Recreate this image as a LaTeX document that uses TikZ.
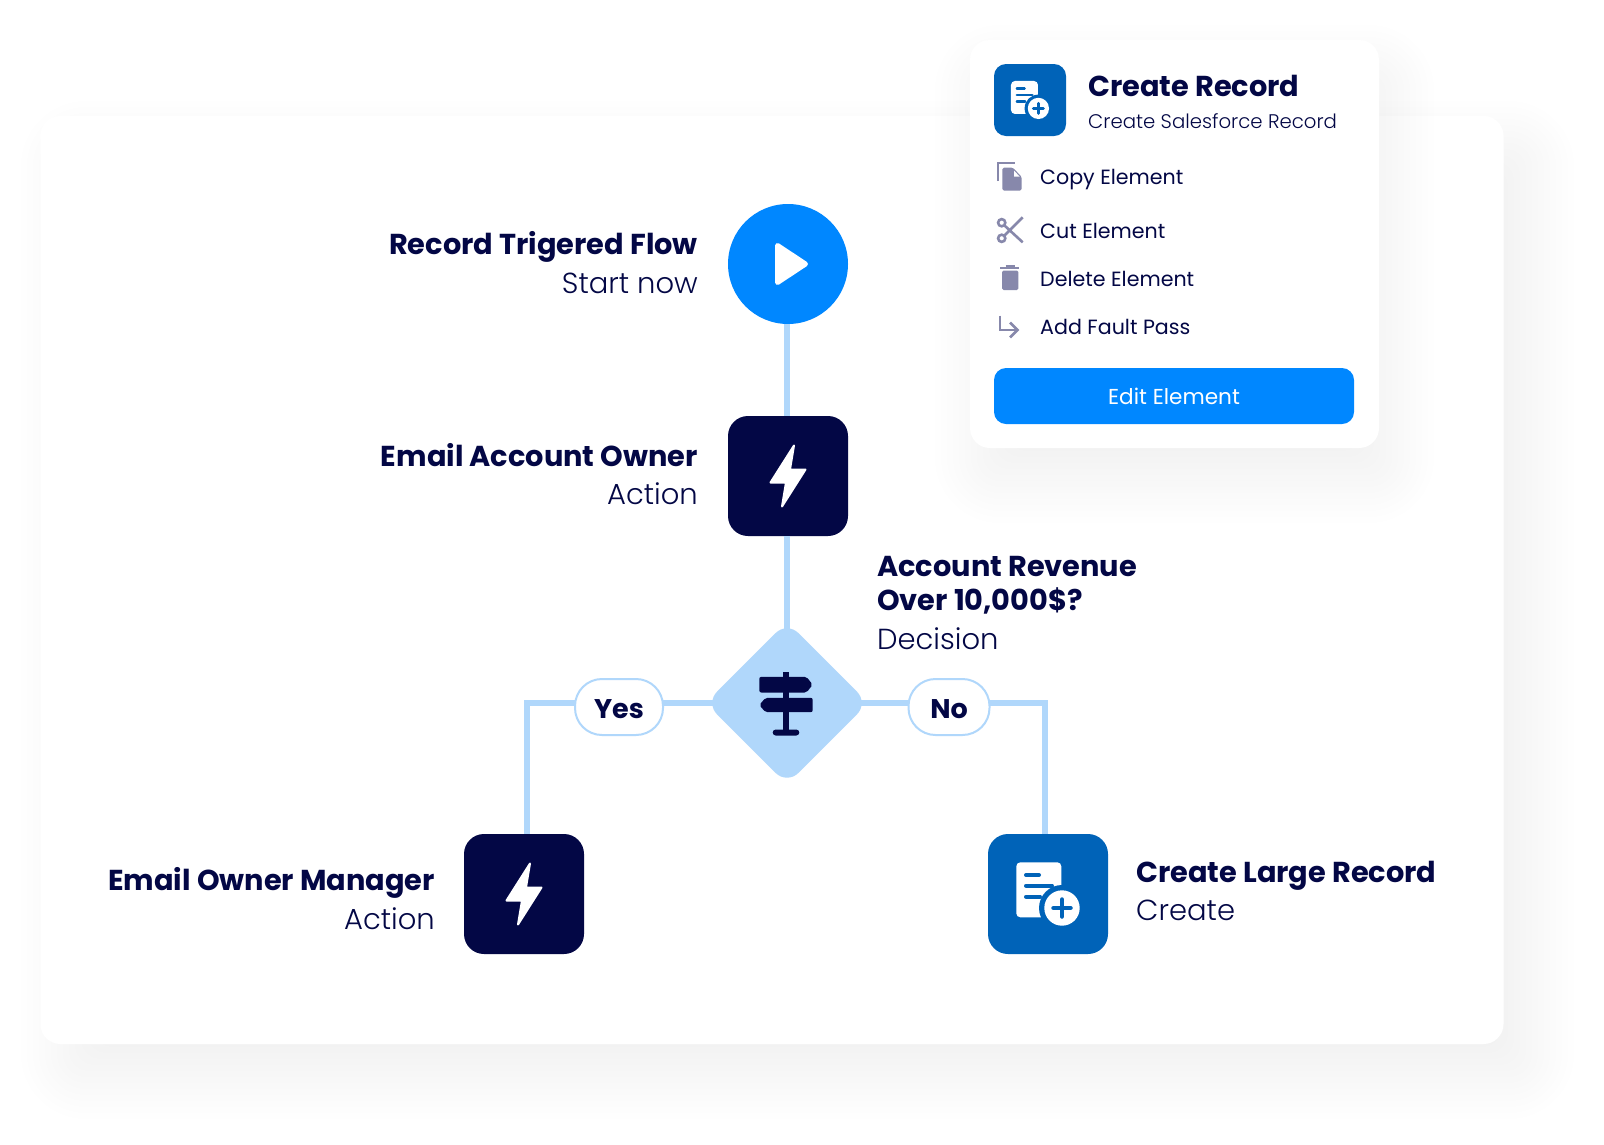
\documentclass[tikz,border=0pt]{standalone}
\usepackage{fontspec}
\setmainfont{Poppins}
\newfontfamily\lightfont{Poppins Light}
\usepackage{tikz}
\usepackage{xcolor}
\definecolor{flownavy}{HTML}{030745}
\definecolor{flowblue}{HTML}{0087FF}
\definecolor{flowmid}{HTML}{0063B8}
\definecolor{flowpale}{HTML}{B0D7FB}
\definecolor{flowgrey}{HTML}{8788AB}
\tikzset{
  flowcard/.style={fill=white, rounded corners=20pt, inner sep=0pt},
  flowbox/.style={rounded corners=20pt, minimum size=120pt, inner sep=0pt},
  flowline/.style={draw=flowpale, line width=6pt},
  flowpill/.style={draw=flowpale, fill=white, line width=2pt, rounded corners=27pt, inner sep=0pt, minimum height=56pt, text height=22.5pt, text depth=0pt, text=flownavy, font=\fontsize{27}{32}\selectfont\bfseries},
  flowtitle/.style={text=flownavy, inner sep=0pt, font=\fontsize{28.8}{34}\selectfont\bfseries},
  flowsub/.style={text=flownavy, inner sep=0pt, font=\fontsize{29}{34}\lightfont},
  menutext/.style={text=flownavy, inner sep=0pt, font=\fontsize{20.6}{26}\selectfont},
  menusubtext/.style={text=flownavy, inner sep=0pt, font=\fontsize{19.7}{26}\lightfont},
  menuicon/.style={draw=flowgrey, line width=2.6pt},
  softshadow/.style={fill=black, opacity=.0045},
}
\newcommand{\softshadow}[4]{
  \foreach \spread in {-45,-39,...,45}{
    \pgfmathsetmacro\rad{max(20,20+\spread)}
    \fill[softshadow, rounded corners=\rad pt] ({#1-\spread},{#2-\spread}) rectangle ({#3+\spread},{#4+\spread});
  }
}
\newcommand{\bolticon}[1]{
  \fill[white, draw=white, line width=2pt, line join=round, shift={(#1)}]
    (6,-30.5) -- (-17.5,6.5) -- (-2,6.5) -- (-6,30.5) -- (17.5,-6.5) -- (2,-6.5) -- cycle;
}
\newcommand{\recordicon}[2]{
  \begin{scope}[shift={(#1)}, x=#2pt, y=-#2pt]
    \fill[white, rounded corners=4pt] (-31.7,-31.7) rectangle (13.3,23.3);
    \fill[flowmid] (14,14) circle (23);
    \fill[white] (14,14) circle (17.7);
    \draw[flowmid, line width=#2*4pt, line cap=round] (-22,-19) -- (-9,-19) (-22,-8.3) -- (4,-8.3) (-22,2.7) -- (-8,2.7);
    \draw[flowmid, line width=#2*4.5pt, line cap=round] (14,5.5) -- (14,22.5) (5.5,14) -- (22.5,14);
  \end{scope}
}
\begin{document}
\begin{tikzpicture}[x=1pt, y=-1pt]
  \useasboundingbox (0,0) rectangle (1604,1144);

  % cards and their shadows
  \softshadow{66}{146}{1529}{1074}
  \node[flowcard, minimum width=1463pt, minimum height=928pt] (maincard) at (772,580) {};
  \softshadow{980}{70}{1389}{478}
  \node[flowcard, minimum width=409pt, minimum height=408pt] (popup) at (1174.5,244) {};

  % flow nodes
  \node[circle, fill=flowblue, minimum size=120pt, inner sep=0pt] (start) at (788,264) {};
  \node[flowbox, fill=flownavy] (ownerbox) at (788,476) {};
  \node[flowbox, fill=flowpale, rotate=45, minimum size=115pt, rounded corners=16pt] (decision) at (787,703) {};
  \node[flowbox, fill=flownavy] (managerbox) at (524,894) {};
  \node[flowbox, fill=flowmid] (createbox) at (1048,894) {};

  % connectors
  \coordinate (yesturn) at (527,703);
  \coordinate (noturn) at (1045,703);
  \draw[flowline] (decision |- start.south) -- (decision |- ownerbox.north);
  \draw[flowline] (decision |- ownerbox.south) -- (decision.center);
  \draw[flowline] (decision.center) -- (yesturn) -- (yesturn |- managerbox.north);
  \draw[flowline] (decision.center) -- (noturn) -- (noturn |- createbox.north);
  \node[flowpill, minimum width=88pt] (yes) at (619,707) {Yes};
  \node[flowpill, minimum width=81pt] (no) at (949,707) {No};

  % icons
  \fill[white, draw=white, line width=5pt, line join=round, shift={(start)}] (-10.5,-18.5) -- (17.5,0) -- (-10.5,18.5) -- cycle;
  \bolticon{ownerbox}
  \bolticon{managerbox}
  \recordicon{createbox}{1}
  \begin{scope}[shift={(decision.center)}, yshift=1pt]
    \fill[flownavy] (-3.7,-30.5) rectangle (1.7,30);
    \fill[flownavy, rounded corners=2pt] (-27.7,-25.2) -- (19.5,-25.2) -- (25.7,-17.3) -- (19.5,-9.5) -- (-27.7,-9.5) -- cycle;
    \fill[flownavy, rounded corners=2pt] (25.7,-4.2) -- (-21.5,-4.2) -- (-27.7,3) -- (-21.5,10.2) -- (25.7,10.2) -- cycle;
    \fill[flownavy, rounded corners=3pt] (-14.3,33.5) -- (-14.3,27.5) -- (12.3,27.5) -- (12.3,33.5) -- cycle;
  \end{scope}

  % labels of the flow
  \node[flowtitle, anchor=base east] (starttitle) at (698,254) {Record Trigered Flow};
  \node[flowsub, anchor=base east] (startsub) at (698,293) {Start now};
  \node[flowtitle, anchor=base east] (ownertitle) at (698,466) {Email Account Owner};
  \node[flowsub, anchor=base east] (ownersub) at (698,504) {Action};
  \node[flowtitle, anchor=base west] (decisiontitle) at (877,576) {Account Revenue};
  \node[flowtitle, anchor=base west] (decisiontitleb) at (877,610) {Over 10,000\$?};
  \node[flowsub, anchor=base west] (decisionsub) at (877,649) {Decision};
  \node[flowtitle, anchor=base east] (managertitle) at (435,890) {Email Owner Manager};
  \node[flowsub, anchor=base east] (managersub) at (435,929) {Action};
  \node[flowtitle, anchor=base west] (createtitle) at (1136,882) {Create Large Record};
  \node[flowsub, anchor=base west] (createsub) at (1136,920) {Create};

  % popup menu
  \node[flowbox, fill=flowmid, minimum size=72pt, rounded corners=12pt] (menubox) at (1030,100) {};
  \recordicon{menubox}{0.6}
  \node[flowtitle, anchor=base west] (menutitle) at (1088,96) {Create Record};
  \node[menusubtext, anchor=base west] (menusub) at (1088,128) {Create Salesforce Record};
  \node[menutext, anchor=base west] (copytext) at (1040,184) {Copy Element};
  \node[menutext, anchor=base west] (cuttext) at (1040,238) {Cut Element};
  \node[menutext, anchor=base west] (deletetext) at (1040,286) {Delete Element};
  \node[menutext, anchor=base west] (addtext) at (1040,334) {Add Fault Pass};
  \node[fill=flowblue, rounded corners=12pt, minimum width=360pt, minimum height=56pt, inner sep=0pt, text=white, font=\fontsize{21.6}{26}\selectfont] (editbtn) at (1174,396) {Edit Element};

  % menu icons
  \draw[menuicon, line width=2pt] (997.5,181) -- (997.5,162.5) -- (1015,162.5);
  \fill[flowgrey, rounded corners=1.5pt] (1002.3,167.7) -- (1013,167.7) -- (1021.7,177) -- (1021.7,190.5) -- (1002.3,190.5) -- cycle;
  \fill[white] (1014,170.5) -- (1014,176.5) -- (1019.5,176.5) -- cycle;
  \draw[menuicon] (1001.7,222.7) circle (3.6) (1001.7,238.3) circle (3.6);
  \draw[menuicon] (1004.5,225.5) -- (1022.7,242.3) (1004.5,235.5) -- (1022.7,217.3);
  \fill[flowgrey, rounded corners=1.5pt] (1002,270.5) rectangle (1018.3,290);
  \draw[menuicon, line width=2pt] (1000,267.5) -- (1019.3,267.5) (1005.5,265.5) -- (1014.5,265.5);
  \draw[menuicon] (1000,315.7) -- (1000,330) -- (1016.5,330);
  \draw[menuicon] (1010,322.5) -- (1017.5,330) -- (1010,337.5);
\end{tikzpicture}
\end{document}
